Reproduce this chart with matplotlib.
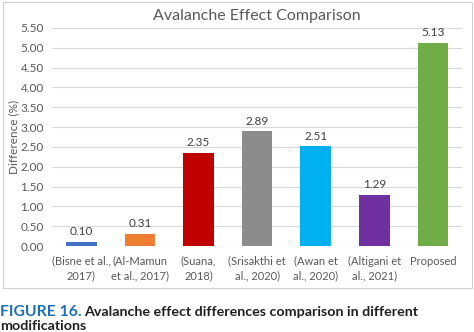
import matplotlib.pyplot as plt
import matplotlib.patches as patches

# data
categories = ['(Bisne et al.,\n2017)', '(Al-Mamun\net al., 2017)', '(Suana,\n2018)',
              '(Srisakthi et\nal., 2020)', '(Awan et\nal., 2020)', '(Altigani et\nal., 2021)', 'Proposed']
values = [0.10, 0.31, 2.35, 2.89, 2.51, 1.29, 5.13]
colors = ['#4472C4', '#ED7D31', '#C00000', '#8C8C8C', '#00B0F0', '#7030A0', '#70AD47']
yticks = [0, 0.5, 1.0, 1.5, 2.0, 2.5, 3.0, 3.5, 4.0, 4.5, 5.0, 5.5]

plt.rcParams['font.family'] = ['Lato', 'DejaVu Sans']
text_gray = '#595959'

fig = plt.figure(figsize=(4.74, 3.32), dpi=100)
ax = fig.add_axes([0.110, 0.259, 0.865, 0.657])

x = range(len(values))
ax.bar(x, values, width=0.52, color=colors, zorder=3)
for i, v in enumerate(values):
    ax.text(i, v + 0.12, f'{v:.2f}', ha='center', va='bottom', fontsize=8.5, color='#404040')

ax.set_xlim(-0.5, len(values) - 0.5)
ax.set_ylim(0, 5.5)
ax.set_yticks(yticks)
ax.set_yticklabels([f'{t:.2f}' for t in yticks])
ax.set_xticks(list(x))
ax.set_xticklabels(categories, fontsize=8, color=text_gray, linespacing=1.35)
ax.tick_params(axis='y', labelsize=8.5, labelcolor=text_gray, length=0, pad=6)
ax.tick_params(axis='x', length=0, pad=7)
ax.grid(axis='y', color='#D9D9D9', linewidth=0.8, zorder=0)
for s in ax.spines.values():
    s.set_visible(False)
ax.set_ylabel('Difference (%)', fontsize=8.5, color=text_gray, labelpad=1)
ax.set_title('Avalanche Effect Comparison', fontsize=11.5, color=text_gray, pad=6)

# chart border
fig.patches.append(patches.Rectangle((3 / 474, 1 - 288 / 332), 469 / 474, 286 / 332,
                                     transform=fig.transFigure, fill=False,
                                     edgecolor='#D0D0D0', linewidth=0.8))

# caption
fig.text(0.0, 1 - 312 / 332, 'FIGURE 16.', fontsize=11.3, fontweight='bold',
         color='#1F6FB5', va='center')
fig.text(84 / 474, 1 - 312 / 332, 'Avalanche effect differences comparison in different',
         fontsize=10.3, fontweight='bold', color='#231F20', va='center')
fig.text(0.0, 1 - 326 / 332, 'modifications', fontsize=10.3, fontweight='bold',
         color='#231F20', va='center')

fig.savefig('out.png', dpi=100)
